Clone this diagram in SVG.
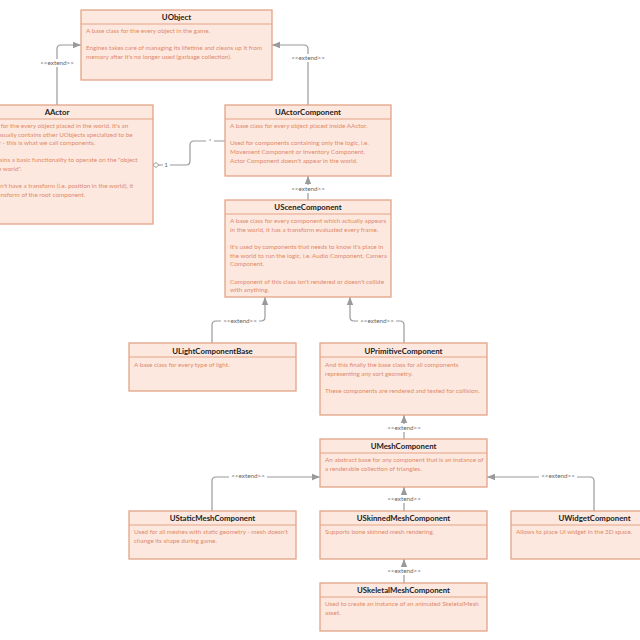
<svg xmlns="http://www.w3.org/2000/svg" width="640" height="640" viewBox="0 0 640 640">
<style>
.box{fill:#fde8df;stroke:#e3a486;stroke-width:1.3}
.sep{stroke:#e3a486;stroke-width:1}
.t{font-family:Lato,"Liberation Sans",sans-serif;font-size:7.8px;font-weight:bold;fill:#222;text-anchor:middle}
.d{font-family:Lato,"Liberation Sans",sans-serif;font-size:6.3px;fill:#e08a6a}
.c{fill:none;stroke:#9a9a9a;stroke-width:1.2}
.l{font-family:Lato,"Liberation Sans",sans-serif;font-size:6.3px;fill:#666;text-anchor:middle}
</style>
<defs>
<marker id="a" viewBox="0 0 10 10" refX="10" refY="5" markerWidth="7" markerHeight="7" orient="auto-start-reverse"><path d="M0,1 L10,5 L0,9 z" fill="#9a9a9a"/></marker>
</defs>
<rect width="640" height="640" fill="#fff"/>
<g id="connectors">
<path class="c" d="M57,105 V49 Q57,45 61,45 H81" marker-end="url(#a)"/>
<rect x="38" y="59" width="38" height="8" fill="#fff"/><text class="l" x="57" y="65">&lt;&lt;extend&gt;&gt;</text>
<path class="c" d="M308,105 V49 Q308,45 304,45 H272" marker-end="url(#a)"/>
<rect x="289" y="54" width="38" height="8" fill="#fff"/><text class="l" x="308" y="60">&lt;&lt;extend&gt;&gt;</text>
<path class="c" d="M159,165 H186 Q190,165 190,161 V145 Q190,141 194,141 H225"/>
<path d="M153,165 L156,162.5 L159,165 L156,167.5 z" fill="#fff" stroke="#9a9a9a" stroke-width="1"/>
<rect x="163" y="161" width="7" height="8" fill="#fff"/><text class="l" x="166" y="167">1</text>
<rect x="206" y="137" width="8" height="8" fill="#fff"/><text class="l" x="210" y="143">*</text>
<path class="c" d="M308,200 V176" marker-end="url(#a)"/>
<rect x="289" y="185" width="38" height="8" fill="#fff"/><text class="l" x="308" y="191">&lt;&lt;extend&gt;&gt;</text>
<path class="c" d="M212,343 V325 Q212,321 216,321 H261 Q265,321 265,317 V297" marker-end="url(#a)"/>
<rect x="221" y="317" width="38" height="8" fill="#fff"/><text class="l" x="240" y="323">&lt;&lt;extend&gt;&gt;</text>
<path class="c" d="M404,343 V325 Q404,321 400,321 H354 Q350,321 350,317 V297" marker-end="url(#a)"/>
<rect x="358" y="317" width="38" height="8" fill="#fff"/><text class="l" x="377" y="323">&lt;&lt;extend&gt;&gt;</text>
<path class="c" d="M404,439 V415" marker-end="url(#a)"/>
<rect x="385" y="424" width="38" height="8" fill="#fff"/><text class="l" x="404" y="430">&lt;&lt;extend&gt;&gt;</text>
<path class="c" d="M212,511 V481 Q212,477 216,477 H320" marker-end="url(#a)"/>
<rect x="229" y="472" width="38" height="8" fill="#fff"/><text class="l" x="248" y="478">&lt;&lt;extend&gt;&gt;</text>
<path class="c" d="M594,511 V481 Q594,477 590,477 H487" marker-end="url(#a)"/>
<rect x="539" y="472" width="38" height="8" fill="#fff"/><text class="l" x="558" y="478">&lt;&lt;extend&gt;&gt;</text>
<path class="c" d="M404,511 V487" marker-end="url(#a)"/>
<rect x="385" y="495" width="38" height="8" fill="#fff"/><text class="l" x="404" y="501">&lt;&lt;extend&gt;&gt;</text>
<path class="c" d="M404,583 V559" marker-end="url(#a)"/>
<rect x="385" y="567" width="38" height="8" fill="#fff"/><text class="l" x="404" y="573">&lt;&lt;extend&gt;&gt;</text>
</g>
<g id="UObject"><rect class="box" x="81" y="10" width="191" height="70"/><line class="sep" x1="81" y1="24" x2="272" y2="24"/><text class="t" x="176.5" y="20">UObject</text>
<text class="d" x="86" y="33">A base class for the every object in the game.</text><text class="d" x="86" y="50">Engines takes care of managing its lifetime and cleans up it from</text><text class="d" x="86" y="59">memory after it's no longer used (garbage collection).</text></g>
<g id="AActor"><rect class="box" x="-39" y="105" width="192" height="119"/><line class="sep" x1="-39" y1="119" x2="153" y2="119"/><text class="t" x="57" y="115">AActor</text>
<text class="d" x="-34" y="128">A base class for the every object placed in the world. It's an</text><text class="d" x="-34" y="137">object that usually contains other UObjects specialized to be</text><text class="d" x="-34" y="145">part of Actor - this is what we call components.</text><text class="d" x="-34" y="162">AActor contains a basic functionality to operate on the "object</text><text class="d" x="-34" y="171">placed in the world".</text><text class="d" x="-34" y="188">AActor doesn't have a transform (i.e. position in the world), it</text><text class="d" x="-34" y="197">takes the transform of the root component.</text></g>
<g id="UActorComponent"><rect class="box" x="225" y="105" width="166" height="71"/><line class="sep" x1="225" y1="119" x2="391" y2="119"/><text class="t" x="308" y="115">UActorComponent</text>
<text class="d" x="230" y="128">A base class for every object placed inside AActor.</text><text class="d" x="230" y="145">Used for components containing only the logic, i.e.</text><text class="d" x="230" y="154">Movement Component or Inventory Component.</text><text class="d" x="230" y="163">Actor Component doesn't appear in the world.</text></g>
<g id="USceneComponent"><rect class="box" x="225" y="200" width="166" height="97"/><line class="sep" x1="225" y1="214" x2="391" y2="214"/><text class="t" x="308" y="210">USceneComponent</text>
<text class="d" x="230" y="223">A base class for every component which actually appears</text><text class="d" x="230" y="232">in the world, it has a transform evaluated every frame.</text><text class="d" x="230" y="249">It's used by components that needs to know it's place in</text><text class="d" x="230" y="258">the world to run the logic, i.e. Audio Component, Camera</text><text class="d" x="230" y="266">Component.</text><text class="d" x="230" y="284">Component of this class isn't rendered or doesn't collide</text><text class="d" x="230" y="292">with anything.</text></g>
<g id="ULightComponentBase"><rect class="box" x="129" y="343" width="167" height="48"/><line class="sep" x1="129" y1="357" x2="296" y2="357"/><text class="t" x="212.5" y="354">ULightComponentBase</text>
<text class="d" x="134" y="367">A base class for every type of light.</text></g>
<g id="UPrimitiveComponent"><rect class="box" x="320" y="343" width="167" height="72"/><line class="sep" x1="320" y1="357" x2="487" y2="357"/><text class="t" x="403.5" y="354">UPrimitiveComponent</text>
<text class="d" x="325" y="367">And this finally the base class for all components</text><text class="d" x="325" y="376">representing any sort geometry.</text><text class="d" x="325" y="393">These components are rendered and tested for collision.</text></g>
<g id="UMeshComponent"><rect class="box" x="320" y="439" width="167" height="48"/><line class="sep" x1="320" y1="453" x2="487" y2="453"/><text class="t" x="403.5" y="449">UMeshComponent</text>
<text class="d" x="325" y="462">An abstract base for any component that is an instance of</text><text class="d" x="325" y="471">a renderable collection of triangles.</text></g>
<g id="UStaticMeshComponent"><rect class="box" x="129" y="511" width="167" height="48"/><line class="sep" x1="129" y1="525" x2="296" y2="525"/><text class="t" x="212.5" y="521">UStaticMeshComponent</text>
<text class="d" x="134" y="534">Used for all meshes with static geometry - mesh doesn't</text><text class="d" x="134" y="543">change its shape during game.</text></g>
<g id="USkinnedMeshComponent"><rect class="box" x="320" y="511" width="167" height="48"/><line class="sep" x1="320" y1="525" x2="487" y2="525"/><text class="t" x="403.5" y="521">USkinnedMeshComponent</text>
<text class="d" x="325" y="534">Supports bone skinned mesh rendering.</text></g>
<g id="UWidgetComponent"><rect class="box" x="511" y="511" width="167" height="48"/><line class="sep" x1="511" y1="525" x2="678" y2="525"/><text class="t" x="594.5" y="521">UWidgetComponent</text>
<text class="d" x="516" y="534">Allows to place UI widget in the 3D space.</text></g>
<g id="USkeletalMeshComponent"><rect class="box" x="320" y="583" width="167" height="48"/><line class="sep" x1="320" y1="597" x2="487" y2="597"/><text class="t" x="403.5" y="593">USkeletalMeshComponent</text>
<text class="d" x="325" y="606">Used to create an instance of an animated SkeletalMesh</text><text class="d" x="325" y="615">asset.</text></g>
</svg>
